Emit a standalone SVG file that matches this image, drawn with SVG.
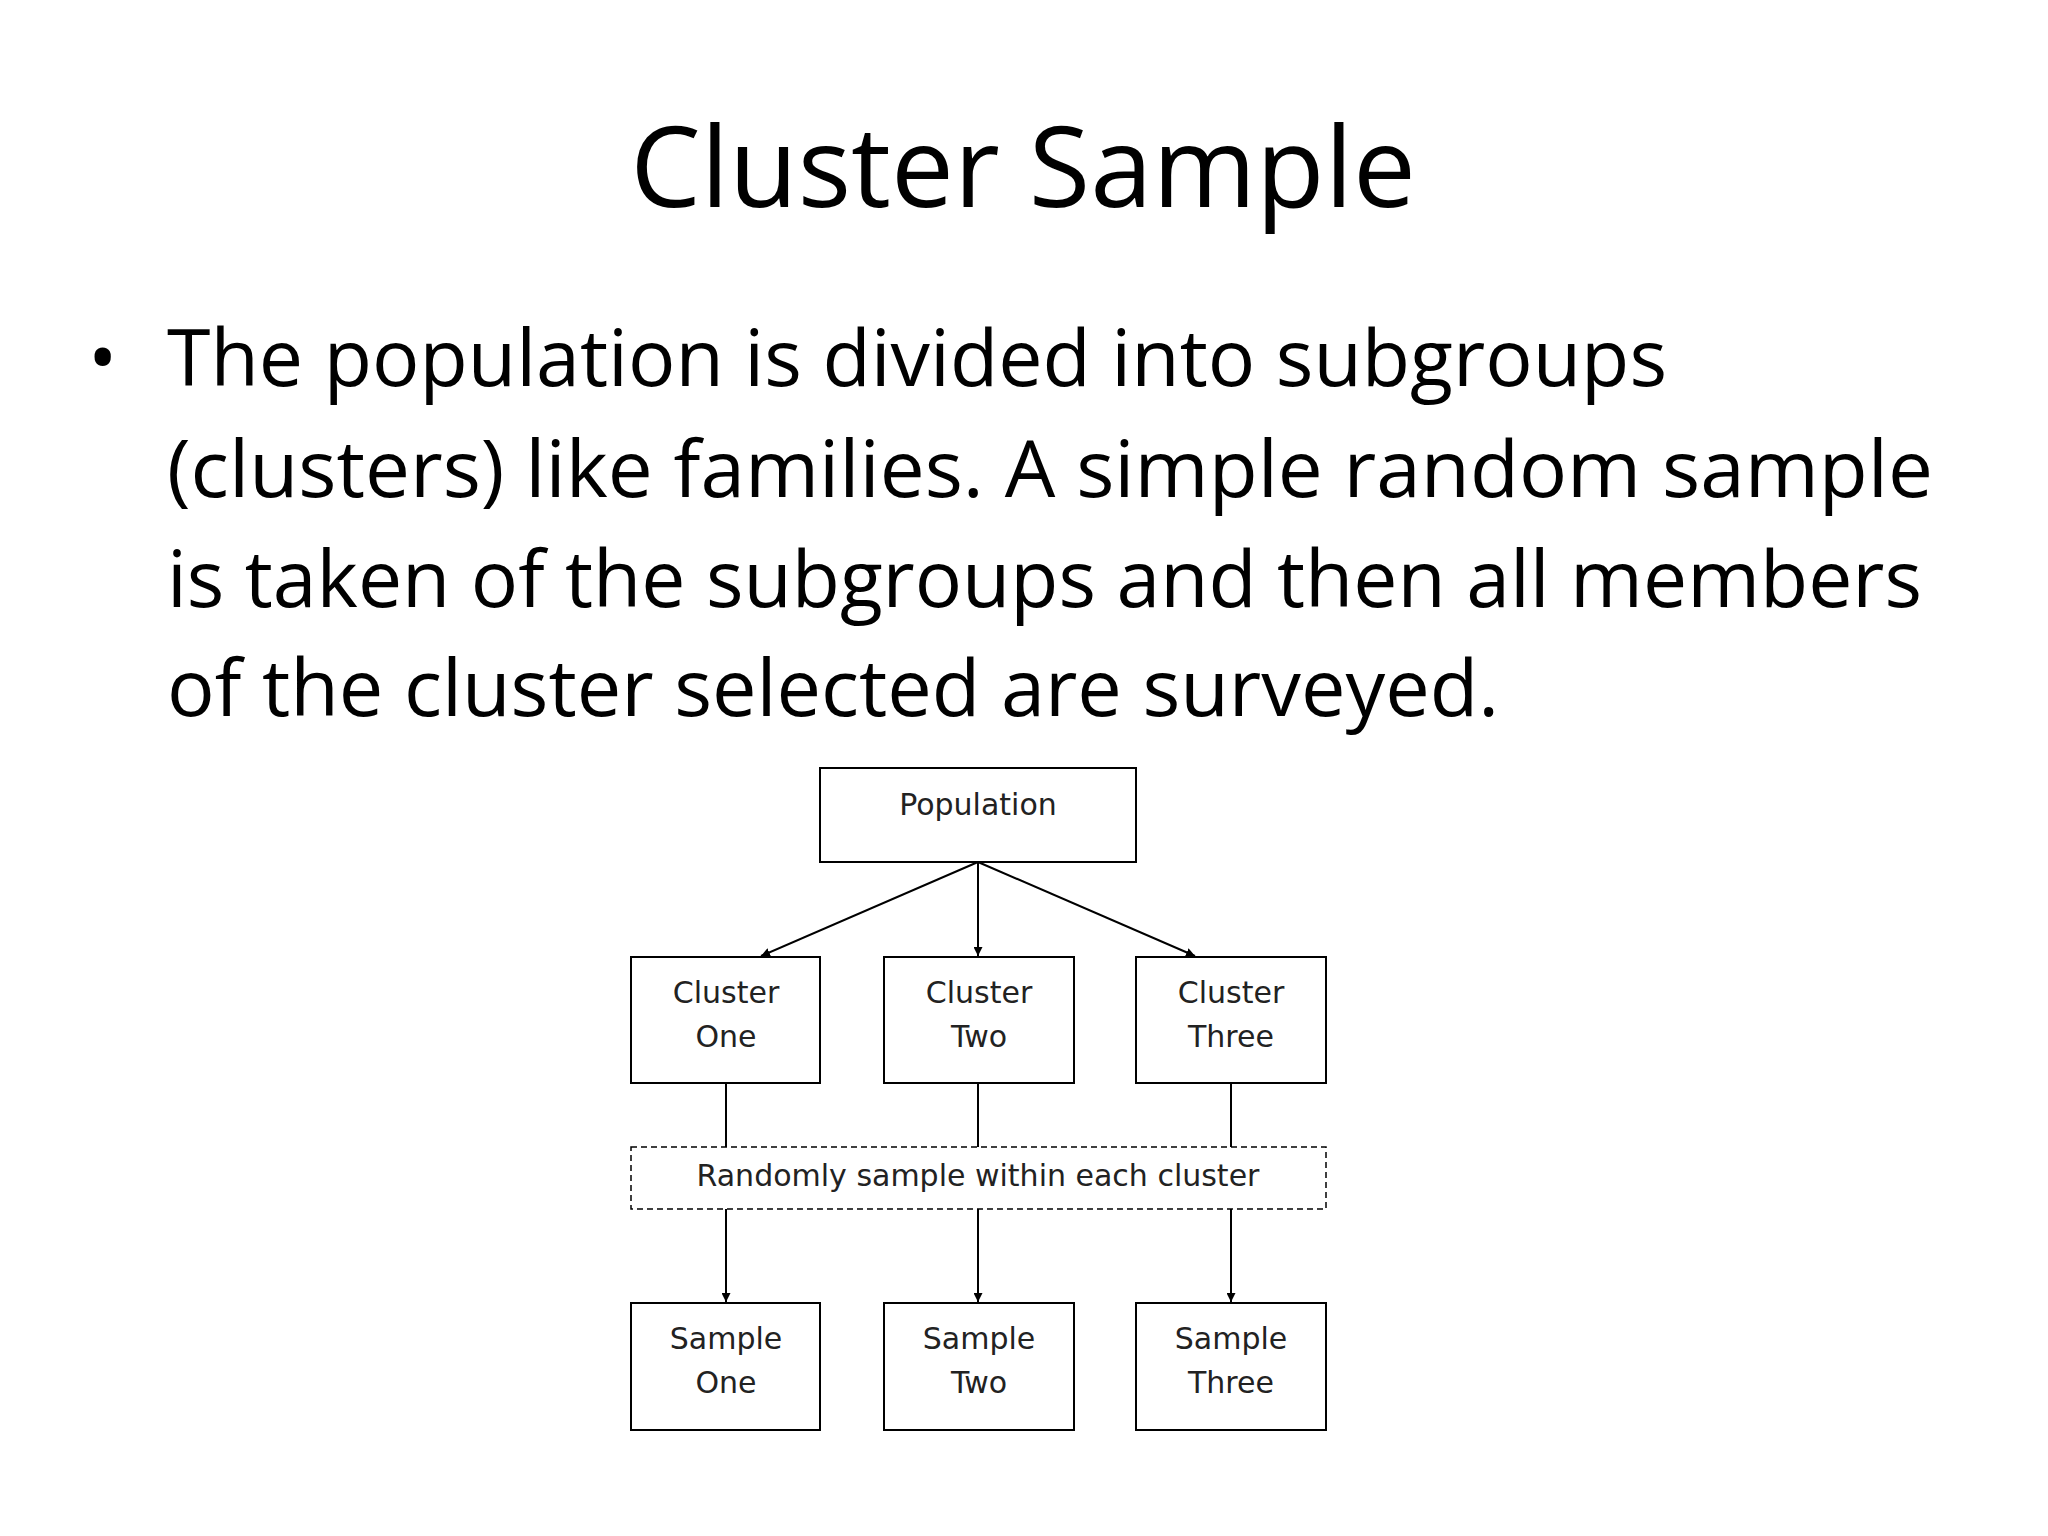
<svg xmlns="http://www.w3.org/2000/svg" width="2048" height="1536" viewBox="0 0 2048 1536">
<defs>
<style>
.t{font-family:"Open Sans","Liberation Sans",sans-serif;fill:#000}
.b{fill:#fff;stroke:#000;stroke-width:2}
.s{font-family:"DejaVu Sans","Liberation Sans",sans-serif;font-size:30px;fill:#222;text-anchor:middle}
.c{stroke:#000;stroke-width:2;fill:none}
</style>
<marker id="a" viewBox="0 0 10 10" refX="10" refY="5" markerWidth="9" markerHeight="9" markerUnits="userSpaceOnUse" orient="auto"><path d="M0,0L10,5L0,10z" fill="#000"/></marker>
</defs>
<rect width="2048" height="1536" fill="#fff"/>
<text class="t" x="1023" y="207" font-size="112" text-anchor="middle">Cluster Sample</text>
<g class="t" font-size="78">
<text x="88" y="386">•</text>
<text x="167" y="386" textLength="1500" lengthAdjust="spacingAndGlyphs">The population is divided into subgroups</text>
<text x="167" y="497" textLength="1766" lengthAdjust="spacingAndGlyphs">(clusters) like families.  A simple random sample</text>
<text x="167" y="607" textLength="1755" lengthAdjust="spacingAndGlyphs">is taken of the subgroups and then all members</text>
<text x="167" y="716" textLength="1332" lengthAdjust="spacingAndGlyphs">of the cluster selected are surveyed.</text>
</g>
<g id="connectors">
<line class="c" x1="978" y1="862" x2="761" y2="956" marker-end="url(#a)"/>
<line class="c" x1="978" y1="862" x2="978" y2="956" marker-end="url(#a)"/>
<line class="c" x1="978" y1="862" x2="1195" y2="956" marker-end="url(#a)"/>
<line class="c" x1="726" y1="1083" x2="726" y2="1147"/>
<line class="c" x1="978" y1="1083" x2="978" y2="1147"/>
<line class="c" x1="1231" y1="1083" x2="1231" y2="1147"/>
<line class="c" x1="726" y1="1209" x2="726" y2="1302" marker-end="url(#a)"/>
<line class="c" x1="978" y1="1209" x2="978" y2="1302" marker-end="url(#a)"/>
<line class="c" x1="1231" y1="1209" x2="1231" y2="1302" marker-end="url(#a)"/>
</g>
<g id="population"><rect class="b" x="820" y="768" width="316" height="94"/><text class="s" x="978" y="815">Population</text></g>
<g id="c1"><rect class="b" x="631" y="957" width="189" height="126"/><text class="s" x="726" y="1003">Cluster</text><text class="s" x="726" y="1047">One</text></g>
<g id="c2"><rect class="b" x="884" y="957" width="190" height="126"/><text class="s" x="979" y="1003">Cluster</text><text class="s" x="979" y="1047">Two</text></g>
<g id="c3"><rect class="b" x="1136" y="957" width="190" height="126"/><text class="s" x="1231" y="1003">Cluster</text><text class="s" x="1231" y="1047">Three</text></g>
<g id="random"><rect x="631" y="1147" width="695" height="62" fill="#fff" stroke="#000" stroke-width="1.5" stroke-dasharray="6,4"/><text class="s" x="978" y="1186">Randomly sample within each cluster</text></g>
<g id="s1"><rect class="b" x="631" y="1303" width="189" height="127"/><text class="s" x="726" y="1349">Sample</text><text class="s" x="726" y="1393">One</text></g>
<g id="s2"><rect class="b" x="884" y="1303" width="190" height="127"/><text class="s" x="979" y="1349">Sample</text><text class="s" x="979" y="1393">Two</text></g>
<g id="s3"><rect class="b" x="1136" y="1303" width="190" height="127"/><text class="s" x="1231" y="1349">Sample</text><text class="s" x="1231" y="1393">Three</text></g>
</svg>
